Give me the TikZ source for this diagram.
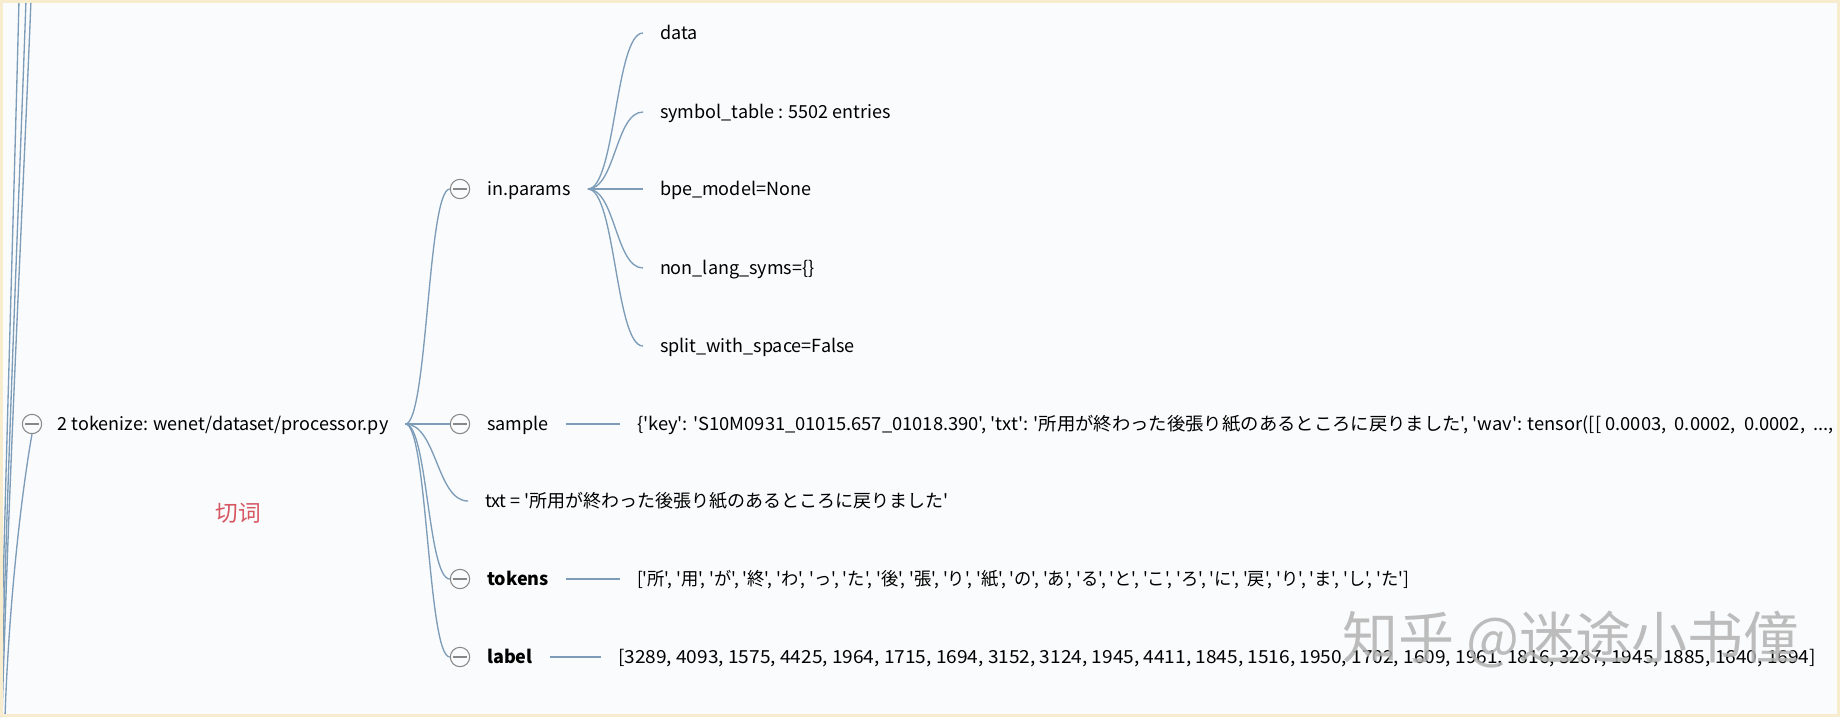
\documentclass[tikz,border=0pt]{standalone}
\usepackage{fontspec}
\setmainfont{Noto Sans CJK JP}[Ligatures=TeXOff]
\newfontfamily\zhfont{Noto Sans CJK SC}
\usetikzlibrary{calc,positioning}

\definecolor{paper}{RGB}{250,251,252}
\definecolor{frameyellow}{RGB}{247,236,206}
\definecolor{linkblue}{RGB}{124,156,184}
\definecolor{foldgray}{RGB}{135,135,135}
\definecolor{notered}{RGB}{214,86,98}

\tikzset{
  link/.style={draw=linkblue, line width=1pt},
  sbranch/.style={to path={.. controls ($(\tikztostart)!0.5!(\tikztostart-|\tikztotarget)$) and ($(\tikztotarget)!0.5!(\tikztotarget-|\tikztostart)$) .. (\tikztotarget)}},
  fold/.style={circle, draw=foldgray, line width=0.8pt, minimum size=14.5pt, inner sep=0pt, fill=paper,
    path picture={\draw [foldgray, line width=0.8pt] ([xshift=-5pt]path picture bounding box.center) -- ([xshift=5pt]path picture bounding box.center);}},
  topic/.style={anchor=west, inner sep=0pt, outer xsep=12.75pt, text height=9.5pt, text depth=0pt, font=\fontsize{13.5pt}{16pt}\selectfont},
}

\begin{document}
\begin{tikzpicture}[x=0.75pt, y=-0.75pt]
	\fill [paper] (0,0) rectangle (1840,717);
	\useasboundingbox (0,0) rectangle (1840,717);
	% links coming from outside the picture
	\coordinate (edgeA) at (0,717);
	\coordinate (edgeB) at (1,717);
	\coordinate (edgeC) at (2,717);
	\coordinate (edgeD) at (5,717);
	\draw [link] (edgeA) .. controls (6,450) and (14,200) .. (19,0);
	\draw [link] (edgeB) .. controls (8,450) and (19,200) .. (26,0);
	\draw [link] (edgeC) .. controls (10,450) and (23,200) .. (31,0);

	% root topic
	\node [fold] (c0) at (32,424) {};
	\node [topic, right=-1pt of c0] (root) {2 tokenize: wenet/dataset/processor.py};
	\draw [link] (c0.south) .. controls (22,490) and (9,600) .. (edgeD);

	% children of the root
	\node [fold] (c1) at (460,189) {};
	\node [topic, right=0pt of c1] (inparams) {in.params};
	\node [fold] (c2) at (460,424) {};
	\node [topic, right=0pt of c2] (sample) {sample};
	\node [topic] (txt) at (468,501) {txt = '所用が終わった後張り紙のあるところに戻りました'};
	\node [fold] (c3) at (460,579) {};
	\node [topic, right=0pt of c3, font=\fontsize{13.5pt}{16pt}\selectfont\bfseries] (tokens) {tokens};
	\node [fold] (c4) at (460,657) {};
	\node [topic, right=0pt of c4, font=\fontsize{13.5pt}{16pt}\selectfont\bfseries] (label) {label};

	\draw [link] (root.east) to[sbranch] (c1.west);
	\draw [link] (root.east) -- (c2.west);
	\draw [link] (root.east) to[sbranch] (txt.west);
	\draw [link] (root.east) to[sbranch] (c3.west);
	\draw [link] (root.east) to[sbranch] (c4.west);

	% in.params leaves
	\node [topic] (data) at (643,33) {data};
	\node [topic] (symtab) at (643,112) {symbol\_table : 5502 entries};
	\node [topic] (bpe) at (643,189) {bpe\_model=None};
	\node [topic] (nonlang) at (643,268) {non\_lang\_syms=\{\}};
	\node [topic] (split) at (643,346) {split\_with\_space=False};
	\foreach \leaf in {data,symtab,nonlang,split}
		\draw [link] (inparams.east) to[sbranch] (\leaf.west);
	\draw [link] (inparams.east) -- (bpe.west);

	% values
	\node [topic] (samplev) at (620,424) {\scalebox{1.019}[1]{\{'key': 'S10M0931\_01015.657\_01018.390', 'txt': '所用が終わった後張り紙のあるところに戻りました', 'wav': tensor([[ 0.0003,\ \ 0.0002,\ \ 0.0002,\ \ ...,}};
	\node [topic] (tokensv) at (620,579) {\scalebox{0.96}[1]{['所', '用', 'が', '終', 'わ', 'っ', 'た', '後', '張', 'り', '紙', 'の', 'あ', 'る', 'と', 'こ', 'ろ', 'に', '戻', 'り', 'ま', 'し', 'た']}};
	\node [topic] (labelv) at (601,657) {\scalebox{1.06}[1]{[3289, 4093, 1575, 4425, 1964, 1715, 1694, 3152, 3124, 1945, 4411, 1845, 1516, 1950, 1702, 1609, 1961, 1816, 3287, 1945, 1885, 1640, 1694]}};
	\draw [link] (sample.east) -- (samplev.west);
	\draw [link] (tokens.east) -- (tokensv.west);
	\draw [link] (label.east) -- (labelv.west);

	% note and watermark
	\node [font=\zhfont\fontsize{17pt}{17pt}\selectfont, text=notered] (cutnote) at (238,513) {切词};
	\node [font=\zhfont\fontsize{42pt}{42pt}\selectfont, text=black!30, text opacity=0.85] (mark) at (1571,640) {知乎 @迷途小书僮};

	\draw [frameyellow, line width=2pt] (1.3,1.3) rectangle (1838.7,715.7);
\end{tikzpicture}
\end{document}
